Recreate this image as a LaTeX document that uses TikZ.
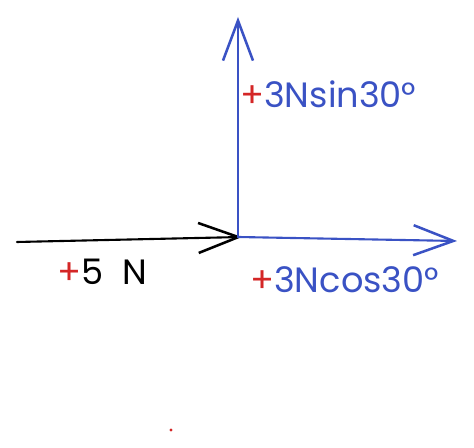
\documentclass[tikz,border=0pt]{standalone}
\usepackage{fontspec}
\setmainfont{Poppins}
\usetikzlibrary{arrows}
\usetikzlibrary{arrows.meta}
\usetikzlibrary{positioning}

\definecolor{stylo}{RGB}{58,82,196}
\definecolor{signe}{RGB}{212,38,38}

\begin{document}
\begin{tikzpicture}
\tikzstyle{force}=[line width=1.5pt,line cap=round,
        -{Straight Barb[length=1cm,width=0.75cm,line width=1.8pt]}]
\tikzstyle{composante}=[force,draw=stylo]
\tikzstyle{etiquette}=[anchor=base west,inner sep=0pt,
        font=\fontsize{25}{30}\selectfont]
\useasboundingbox (0,0) rectangle (11.85,11.2);
%points de depart et d'arrivee
\coordinate (origine) at (5.95,5.275);
\coordinate (gauche) at (0.425,5.15);
\coordinate (pointe) at (6.05,5.275);
\coordinate (haut) at (5.95,10.775);
\coordinate (droite) at (11.425,5.175);
%etiquettes
\node[etiquette,text=stylo] (sinus) at (6.0,8.5)
        {\textcolor{signe}{+}3Nsin30°};
\node[etiquette,text=stylo] (cosinus) at (6.25,3.875)
        {\textcolor{signe}{+}3Ncos30°};
\node[etiquette] (cinq) at (1.425,4.075)
        {\textcolor{signe}{+}5\ \ N};
%fleches
\draw[force] (gauche) -- (pointe);
\draw[composante] (origine) -- (haut);
\draw[composante] (origine) -- (droite);
\fill[signe] (4.275,0.45) circle (0.04);
\end{tikzpicture}
\end{document}
